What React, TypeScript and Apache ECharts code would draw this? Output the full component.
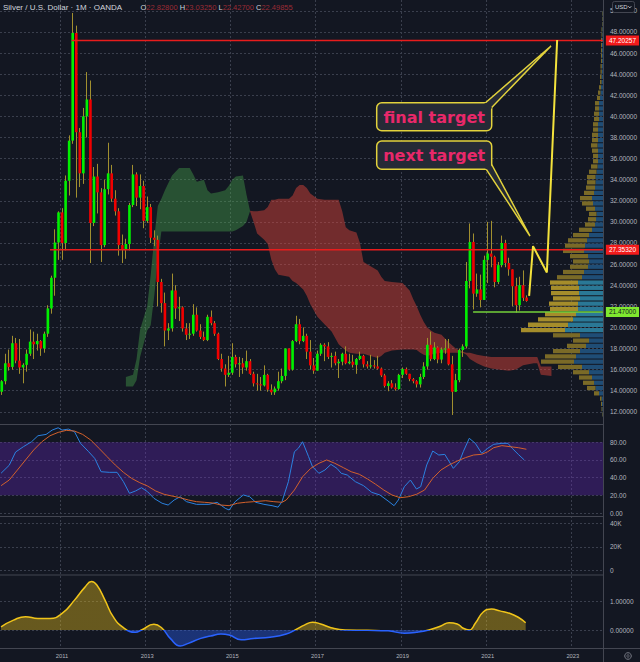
import React, { useEffect, useRef } from 'react';
import * as echarts from 'echarts';

// ---------- categories: monthly, Aug 2009 -> Sep 2023 ----------
const firstMonth = { year: 2009, month: 8 };
const monthCount = 170;
const months: string[] = Array.from({ length: monthCount }, (_, k) => {
  const m = firstMonth.month - 1 + k;
  return `${firstMonth.year + Math.floor(m / 12)}-${String((m % 12) + 1).padStart(2, '0')}`;
});
const yearTicks = ['2011', '2013', '2015', '2017', '2019', '2021', '2023'];

// ---------- monthly candles [open, close, low, high], Aug 2009 -> Dec 2021 ----------
const candles: number[][] = [
  // 2009 Aug-Dec
  [13.9, 14.9, 13.6, 15.0], [14.9, 16.6, 14.6, 17.5], [16.6, 16.25, 15.9, 17.9], [16.25, 18.5, 16.0, 19.2], [18.5, 16.85, 16.6, 19.0],
  // 2010
  [16.85, 16.2, 15.6, 18.9], [16.2, 16.45, 14.7, 16.6], [16.45, 17.5, 15.8, 17.9], [17.5, 18.65, 17.3, 19.8],
  [18.65, 18.4, 17.0, 19.6], [18.4, 18.7, 17.8, 19.4], [18.7, 18.0, 17.3, 18.8], [18.0, 19.4, 17.6, 19.6],
  [19.4, 21.8, 19.1, 22.1], [21.8, 24.7, 21.3, 24.9], [24.7, 28.05, 23.0, 29.3], [28.05, 30.9, 26.4, 31.0],
  // 2011
  [30.9, 28.0, 26.4, 31.3], [28.0, 33.9, 27.3, 34.4], [33.9, 37.7, 32.5, 38.2], [37.7, 47.9, 37.4, 49.8],
  [47.9, 38.5, 32.3, 48.6], [38.5, 34.6, 33.3, 38.9], [34.6, 40.0, 33.6, 40.8], [40.0, 41.6, 38.0, 44.2],
  [41.6, 29.9, 26.1, 43.4], [29.9, 34.3, 29.6, 35.2], [34.3, 32.8, 30.8, 35.5], [32.8, 27.8, 26.2, 33.2],
  // 2012
  [27.8, 33.1, 27.6, 34.0], [33.1, 34.6, 32.6, 37.5], [34.6, 32.2, 31.9, 35.4], [32.2, 31.0, 30.6, 33.0],
  [31.0, 27.8, 26.8, 31.3], [27.8, 27.4, 26.1, 28.8], [27.4, 27.9, 26.5, 28.4], [27.9, 31.6, 27.3, 31.8],
  [31.6, 34.5, 31.4, 35.4], [34.5, 32.3, 31.5, 34.7], [32.3, 33.4, 31.2, 34.5], [33.4, 30.1, 29.4, 33.9],
  // 2013
  [30.1, 31.4, 29.9, 32.4], [31.4, 28.5, 28.0, 31.7], [28.5, 28.3, 27.7, 29.2], [28.3, 24.3, 22.0, 28.7],
  [24.3, 22.3, 21.4, 24.6], [22.3, 19.7, 18.2, 23.3], [19.7, 19.9, 18.8, 20.4], [19.9, 23.5, 19.6, 25.1],
  [23.5, 21.8, 20.8, 24.0], [21.8, 21.9, 20.6, 22.9], [21.9, 19.9, 19.6, 22.0], [19.9, 19.3, 18.8, 20.4],
  // 2014
  [19.3, 19.4, 18.9, 20.4], [19.4, 21.2, 19.2, 22.2], [21.2, 19.7, 19.6, 21.9], [19.7, 19.1, 18.9, 20.3],
  [19.1, 18.8, 18.7, 19.6], [18.8, 21.0, 18.7, 21.2], [21.0, 20.4, 20.2, 21.6], [20.4, 19.4, 19.2, 20.6],
  [19.4, 17.0, 16.9, 19.5], [17.0, 16.1, 15.8, 17.5], [16.1, 15.5, 14.4, 16.5], [15.5, 15.7, 15.3, 17.3],
  // 2015
  [15.7, 17.2, 15.5, 18.5], [17.2, 16.5, 16.2, 17.4], [16.5, 16.6, 15.3, 17.2], [16.6, 16.2, 15.6, 17.1],
  [16.2, 16.8, 15.9, 17.8], [16.8, 15.6, 15.5, 17.0], [15.6, 14.7, 14.4, 15.8], [14.7, 14.6, 14.0, 15.6],
  [14.6, 14.5, 14.0, 15.3], [14.5, 15.5, 14.4, 16.4], [15.5, 14.1, 13.9, 15.6], [14.1, 13.85, 13.6, 14.6],
  // 2016
  [13.85, 14.2, 13.6, 14.4], [14.2, 14.9, 14.0, 15.8], [14.9, 15.4, 14.7, 16.1], [15.4, 18.0, 15.0, 18.0],
  [18.0, 16.0, 15.9, 18.0], [16.0, 18.7, 15.9, 18.8], [18.7, 20.3, 18.6, 21.1], [20.3, 18.7, 18.4, 20.8],
  [18.7, 19.2, 18.6, 20.0], [19.2, 17.7, 17.0, 19.4], [17.7, 16.4, 16.0, 18.8], [16.4, 15.9, 15.6, 17.1],
  // 2017
  [15.9, 17.5, 15.9, 17.8], [17.5, 18.35, 17.3, 18.5], [18.35, 18.2, 16.8, 18.5], [18.2, 17.2, 17.0, 18.6],
  [17.2, 17.3, 16.2, 17.6], [17.3, 16.6, 16.4, 17.7], [16.6, 16.75, 15.2, 17.0], [16.75, 17.5, 16.4, 17.6],
  [17.5, 16.6, 16.5, 18.2], [16.6, 16.75, 16.5, 17.5], [16.75, 16.45, 16.2, 17.4], [16.45, 17.0, 15.6, 17.1],
  // 2018
  [17.0, 17.3, 16.9, 17.7], [17.3, 16.5, 16.2, 17.4], [16.5, 16.3, 16.1, 16.8], [16.3, 16.4, 16.1, 17.4],
  [16.4, 16.3, 16.1, 16.9], [16.3, 16.1, 16.0, 17.3], [16.1, 15.45, 15.3, 16.2], [15.45, 14.45, 14.3, 15.6],
  [14.45, 14.7, 13.95, 14.9], [14.7, 14.3, 14.2, 15.0], [14.3, 14.15, 14.0, 14.7], [14.15, 15.5, 14.1, 15.6],
  // 2019
  [15.5, 16.05, 15.2, 16.2], [16.05, 15.6, 15.5, 16.2], [15.6, 15.1, 14.9, 15.6], [15.1, 14.9, 14.7, 15.2],
  [14.9, 14.6, 14.3, 15.0], [14.6, 15.3, 14.3, 15.6], [15.3, 16.3, 15.1, 16.7], [16.3, 18.35, 16.0, 19.0],
  [18.35, 17.0, 16.8, 19.6], [17.0, 18.1, 16.9, 18.6], [18.1, 16.95, 16.6, 18.2], [16.95, 17.9, 16.6, 18.1],
  // 2020
  [17.9, 18.0, 17.5, 18.9], [18.0, 16.5, 16.4, 18.9], [16.5, 13.9, 11.7, 17.3], [13.9, 15.0, 13.9, 15.6],
  [15.0, 17.85, 14.8, 18.0], [17.85, 18.2, 17.2, 18.4], [18.2, 24.4, 18.0, 26.2], [24.4, 28.1, 23.7, 29.85],
  [28.1, 23.2, 21.7, 28.9], [23.2, 23.6, 22.9, 25.1], [23.6, 22.6, 21.9, 25.0], [22.6, 26.4, 22.6, 26.8],
  // 2021
  [26.4, 27.0, 24.2, 30.0], [27.0, 26.7, 25.7, 30.1], [26.7, 24.3, 23.8, 26.8], [24.3, 25.9, 24.1, 26.2],
  [25.9, 28.0, 25.7, 28.7], [28.0, 26.1, 25.7, 28.3], [26.1, 25.5, 24.9, 26.6], [25.5, 23.9, 22.0, 25.5],
  [23.9, 22.1, 21.4, 24.7], [22.1, 24.0, 21.6, 24.8], [24.0, 22.8, 22.5, 25.4], [22.828, 22.49855, 22.427, 23.0325],
];

const headerOHLC = [['O', '22.82800'], ['H', '23.03250'], ['L', '22.42700'], ['C', '22.49855']];

// ---------- Ichimoku cloud [monthIndex, upper, lower] ----------
const greenCloud: number[][] = [
  [35, 15.3, 14.4], [37, 15.5, 14.4], [38, 17.0, 15.0], [39, 19.8, 17.2], [41, 22.0, 19.7], [42, 25.0, 20.2],
  [43, 28.5, 23.0], [44, 31.5, 26.5], [45, 32.2, 29.1], [46, 33.0, 29.1], [48, 34.4, 29.1], [50, 35.1, 29.1],
  [53, 35.1, 29.1], [54, 34.5, 29.1], [55, 33.8, 29.1], [57, 34.0, 29.1], [58, 33.0, 29.1], [59, 32.7, 29.1],
  [61, 32.8, 29.1], [63, 33.0, 29.1], [64, 33.4, 29.1], [65, 34.0, 29.1], [66, 34.3, 29.2], [68, 34.4, 29.6],
  [69, 32.6, 30.0], [70, 31.05, 31.0],
];
const redCloud: number[][] = [
  [70, 31.05, 31.0], [71, 31.0, 30.0], [72, 31.0, 28.9], [74, 31.1, 28.3], [75, 31.4, 27.9], [76, 32.1, 26.4],
  [77, 32.1, 25.5], [78, 32.2, 25.0], [81, 32.2, 24.8], [82, 32.5, 24.4], [83, 33.2, 24.2], [84, 33.5, 23.9],
  [85, 33.5, 23.6], [86, 33.2, 23.0], [87, 32.7, 22.2], [89, 32.2, 21.0], [91, 32.1, 20.3], [93, 32.1, 19.6],
  [95, 32.1, 18.4], [96, 31.0, 18.1], [97, 29.5, 17.8], [98, 29.2, 17.6], [100, 29.0, 17.5], [101, 28.0, 17.5],
  [102, 26.2, 17.5], [104, 25.8, 17.3], [106, 25.4, 17.1], [107, 24.8, 17.3], [108, 24.4, 17.6], [110, 24.3, 17.8],
  [113, 24.2, 17.9], [115, 23.5, 17.9], [116, 22.7, 17.9], [117, 22.0, 17.85], [118, 21.2, 17.6], [119, 20.5, 17.4],
  [120, 20.0, 17.3], [121, 19.7, 17.4], [122, 19.5, 17.5], [124, 19.3, 17.6], [126, 18.6, 17.6], [128, 18.0, 17.6],
  [130, 17.7, 17.6], [131, 17.6, 17.4], [132, 17.6, 17.0], [134, 17.4, 16.6], [136, 17.3, 16.3], [138, 17.2, 16.1],
  [140, 17.2, 16.0], [143, 17.2, 15.9], [145, 17.2, 16.0], [147, 17.2, 16.4], [150, 17.2, 16.6], [151, 17.2, 16.6],
  [152, 16.3, 15.5], [155, 16.3, 15.4],
];

// ---------- horizontal levels ----------
const levelValues = [47.20257, 27.3532, 21.47];
const levelStarts = [19.7, 13.6, 132.9];

// ---------- projected path [monthIndex, price] ----------
const projection: number[][] = [[148.7, 22.98], [149.8, 27.7], [153.7, 25.2], [156.6, 47.24]];

// ---------- visible range volume profile [price, upVol, downVol] ----------
const volumeProfile: number[][] = [
  [11.75, 0.5, 0.5], [12.25, 0.7, 0.8], [12.75, 1, 1], [13.25, 1.4, 1.6], [13.75, 4, 5], [14.25, 7.5, 8.5],
  [14.75, 9, 11], [15.25, 11, 13], [15.75, 14, 16], [16.25, 21, 24], [16.75, 29, 33], [17.25, 27, 31],
  [17.75, 23, 27], [18.25, 17, 19], [18.75, 14, 16], [19.25, 23, 27], [19.75, 38, 44], [20.25, 35, 40],
  [20.75, 30, 35], [21.25, 27, 31], [21.75, 25, 28], [22.25, 25, 29], [22.75, 23, 27], [23.25, 24, 28],
  [23.75, 24, 28], [24.25, 25, 28], [24.75, 21, 25], [25.25, 19, 21], [25.75, 15, 18], [26.25, 14, 16],
  [26.75, 15, 18], [27.25, 19, 21], [27.75, 18, 20], [28.25, 16, 19], [28.75, 14, 16], [29.25, 11, 13],
  [29.75, 8, 10], [30.25, 7, 8], [30.75, 6.5, 7.5], [31.25, 8, 9], [31.75, 10, 11], [32.25, 11, 12],
  [32.75, 9, 10], [33.25, 8, 9], [33.75, 7.5, 8.5], [34.25, 7.5, 8.5], [34.75, 6.5, 7.5], [35.25, 5.5, 6.5],
  [35.75, 5, 5], [36.25, 5, 5], [36.75, 5, 6], [37.25, 5.5, 6.5], [37.75, 5, 6], [38.25, 5, 6],
  [38.75, 5, 5], [39.25, 5, 5], [39.75, 4, 5], [40.25, 4, 5], [40.75, 4, 4], [41.25, 4, 4],
  [41.75, 3, 3], [42.25, 2.5, 2.5], [42.75, 2, 2], [43.25, 1.5, 1.5], [43.75, 1.5, 1.5], [44.25, 1.2, 1.3],
  [44.75, 1.2, 1.3], [45.25, 1, 1], [45.75, 1, 1], [46.25, 1, 1], [46.75, 1, 1], [47.25, 1, 1],
  [47.75, 0.7, 0.8], [48.25, 0.7, 0.8], [48.75, 0.5, 0.5], [49.25, 0.5, 0.5], [49.75, 0.5, 0.5],
];
const vpBin = 0.5;
const valueArea = [19.75, 24.25];

// ---------- RSI and its moving average [monthIndex, value] ----------
const rsi: number[][] = [
  [-0.2, 45], [2.1, 54], [3.9, 69], [6.1, 75], [8.4, 80.6], [10.2, 87.4], [12.5, 88.9], [14.2, 93.8], [15.9, 96.4],
  [17.0, 93.8], [18.8, 94.9], [20.5, 91.9], [22.2, 78.8], [24.5, 69.3], [26.2, 61.8], [28.0, 46.7], [30.3, 46],
  [32.5, 46], [34.3, 35.4], [36.0, 22.3], [37.7, 24.9], [39.4, 28.6], [41.1, 24.1], [42.9, 16.6], [45.2, 11],
  [46.9, 9], [48.6, 14.7], [50.3, 18.4], [52.1, 12.8], [54.9, 9.8], [58.4, 9.8], [60.7, 12.1], [63.0, 5.3],
  [64.1, 3.4], [65.8, 12.8], [68.1, 20.4], [69.9, 18.4], [71.6, 12.1], [73.9, 9.8], [76.2, 8.3], [77.9, 6.6],
  [79.0, 12.8], [80.8, 35.4], [82.5, 69.3], [83.6, 73.2], [84.8, 80.6], [86.5, 63.7], [87.6, 52.4], [89.4, 44.9],
  [91.1, 48.6], [92.8, 55], [94.5, 50.5], [95.7, 44.9], [97.4, 43], [99.7, 35.4], [102.0, 30.9], [104.3, 23.4],
  [106.6, 20.4], [108.9, 13.6], [110.6, 8.3], [111.8, 14.7], [113.5, 29.8], [115.2, 37.3], [116.9, 27.1],
  [118.1, 29.8], [119.8, 54.3], [121.5, 70.1], [123.2, 65.6], [124.9, 66.3], [127.3, 50.5], [129.0, 58],
  [130.1, 69.3], [131.8, 84.5], [133.5, 78.8], [135.3, 67.5], [137.0, 73.2], [138.7, 77.7], [141.0, 78.8],
  [142.7, 78.8], [143.9, 73.2], [145.6, 66.4], [147.3, 60],
];
const rsiMA: number[][] = [
  [-0.2, 30.9], [2.1, 37.3], [4.4, 48.6], [6.7, 60], [9.0, 71.3], [11.3, 80.6], [13.6, 87.4], [15.9, 91.2],
  [18.2, 93.5], [20.5, 92.7], [22.8, 88.9], [25.1, 82.5], [27.4, 73.2], [29.7, 63.7], [32.0, 54.3], [34.3, 46],
  [36.6, 39.2], [38.9, 34.3], [41.1, 30.5], [43.4, 24.9], [45.8, 21.1], [48.0, 19.2], [50.3, 17.3], [52.6, 14.7],
  [54.9, 12.8], [57.2, 12.1], [59.5, 11.3], [61.8, 9], [64.1, 8.3], [66.4, 11], [68.7, 12.1], [71.0, 12.8],
  [74.4, 13.9], [76.7, 12.8], [79.0, 12.1], [80.2, 14.7], [82.5, 26], [84.8, 41], [87.1, 50.5], [89.4, 56.2],
  [91.6, 60], [93.9, 56.2], [96.3, 51.3], [98.5, 46.7], [100.8, 43.8], [103.1, 38.5], [105.4, 32.5], [107.7, 26],
  [110.0, 20.4], [112.3, 17.3], [114.6, 18.4], [116.9, 21.1], [119.2, 26], [121.5, 39.2], [123.8, 48.6],
  [126.1, 54.3], [128.4, 58.8], [130.7, 62.6], [133.0, 65.6], [135.3, 66.4], [137.0, 69.3], [138.7, 73.9],
  [141.0, 76.2], [143.3, 75], [145.6, 73.9], [147.9, 72.1],
];

// ---------- lower oscillator [monthIndex, value] ----------
const oscillator: number[][] = [
  [-0.2, 0.11], [3.3, 0.34], [6.7, 0.46], [10.2, 0.4], [13.6, 0.4], [17.0, 0.57], [20.5, 1.03], [23.4, 1.47],
  [25.3, 1.67], [26.8, 1.55], [29.1, 1.03], [31.4, 0.46], [34.3, 0.08], [37.7, -0.08], [39.4, 0], [42.9, 0.2],
  [45.2, 0.06], [47.5, -0.29], [50.3, -0.55], [52.6, -0.46], [56.1, -0.29], [58.9, -0.21], [61.8, -0.14],
  [64.1, -0.17], [67.5, -0.34], [71.0, -0.29], [75.6, -0.25], [80.2, -0.14], [83.0, 0.02], [85.3, 0.17],
  [87.6, 0.27], [89.9, 0.21], [92.8, 0.08], [96.8, 0], [103.1, -0.01], [108.9, -0.03], [113.5, -0.11],
  [116.9, -0.08], [120.4, 0], [123.8, 0.14], [126.1, 0.25], [128.4, 0.21], [130.1, 0.06], [131.8, 0],
  [133.5, 0.23], [135.8, 0.63], [138.1, 0.72], [140.4, 0.66], [143.3, 0.57], [145.6, 0.44], [147.7, 0.25],
];

// ---------- styles ----------
const BG = '#131722';
const GRIDLINE = { color: '#3a3f4d', type: [2, 2] as any, width: 1 };
const LABEL = '#b2b5be';
const SEP = '#434651';
const UP = '#00f000';
const DOWN = '#f00000';
const WICK = '#a18f2f';
const AXIS_FONT = 6.5;
const VP_WIDTH_FRACTION = 0.136;
const FONT = 'Liberation Sans, Arial, sans-serif';
const PRICE_MIN = 10;
const PRICE_MAX = 51.03;
const MAIN_HEIGHT = 432.9;

const isYearTick = (val: string) => val.endsWith('-01') && yearTicks.includes(val.slice(0, 4));

function cloudRender(points: number[][], fill: string) {
  return (params: any, api: any) => {
    if (params.dataIndex !== 0) return null;
    const top = points.map((p) => api.coord([p[0], p[1]]));
    const bot = points.map((p) => api.coord([p[0], p[2]])).reverse();
    return { type: 'polygon', shape: { points: top.concat(bot) }, style: { fill } };
  };
}

function candleRender(params: any, api: any) {
  const i = api.value(0);
  const o = api.value(1), c = api.value(2), l = api.value(3), h = api.value(4);
  const po = api.coord([i, o]);
  const pc = api.coord([i, c]);
  const pl = api.coord([i, l]);
  const ph = api.coord([i, h]);
  const bw = api.size([1, 0])[0] * 0.74;
  const xw = Math.floor(po[0]) + 0.5;
  const top = Math.min(po[1], pc[1]);
  const bh = Math.max(1, Math.abs(po[1] - pc[1]));
  return {
    type: 'group',
    children: [
      { type: 'line', shape: { x1: xw, y1: ph[1], x2: xw, y2: pl[1] }, style: { stroke: WICK, lineWidth: 1 } },
      { type: 'rect', shape: { x: po[0] - bw / 2, y: top, width: bw, height: bh }, style: { fill: c >= o ? UP : DOWN } },
    ],
  };
}

function vpRender(params: any, api: any) {
  const price = api.value(0), up = api.value(1), dn = api.value(2);
  const p0 = api.coord([0, price]);
  const p1 = api.coord([up, price]);
  const p2 = api.coord([up + dn, price]);
  const h = Math.max(1, api.size([0, vpBin])[1] - 1);
  const inVA = price >= valueArea[0] && price <= valueArea[1];
  return {
    type: 'group',
    children: [
      { type: 'rect', shape: { x: p1[0], y: p0[1] - h / 2, width: p0[0] - p1[0], height: h }, style: { fill: inVA ? '#2a7896' : '#1f4d76' } },
      { type: 'rect', shape: { x: p2[0], y: p0[1] - h / 2, width: p1[0] - p2[0], height: h }, style: { fill: inVA ? '#a58d2b' : '#7a6a27' } },
    ],
  };
}

function buildOption() {
  const xMin = -0.5, xMax = monthCount - 0.5;
  const vpMax = Math.max(...volumeProfile.map((r) => r[1] + r[2])) / VP_WIDTH_FRACTION;
  const valueX = (gridIndex: number) => ({ type: 'value', gridIndex, min: xMin, max: xMax, show: false });

  const series: any[] = [];
  series.push({ type: 'custom', xAxisIndex: 1, yAxisIndex: 1, data: greenCloud, encode: { x: 0, y: [1, 2] }, renderItem: cloudRender(greenCloud, 'rgba(76,175,80,0.38)'), silent: true, z: 1 });
  series.push({ type: 'custom', xAxisIndex: 1, yAxisIndex: 1, data: redCloud, encode: { x: 0, y: [1, 2] }, renderItem: cloudRender(redCloud, 'rgba(230,70,60,0.45)'), silent: true, z: 1 });
  series.push({ type: 'custom', xAxisIndex: 5, yAxisIndex: 5, data: volumeProfile, encode: { x: [1, 2], y: 0 }, renderItem: vpRender, silent: true, z: 2 });
  series.push({ type: 'custom', xAxisIndex: 1, yAxisIndex: 1, data: candles.map((c, i) => [i, ...c]), encode: { x: 0, y: [1, 2, 3, 4] }, renderItem: candleRender, silent: true, z: 3 });

  const levelColors = ['#e81c1c', '#e81c1c', '#74d23a'];
  const levelLabelBg = ['#f21b1b', '#f21b1b', '#7fe82f'];
  const levelLabelFg = ['#ffffff', '#ffffff', '#131722'];
  levelValues.forEach((v, k) => {
    series.push({
      type: 'line', xAxisIndex: 1, yAxisIndex: 1, symbol: 'none', silent: true, z: 4,
      data: [[levelStarts[k], v], [xMax, v]],
      lineStyle: { color: levelColors[k], width: 1.5 },
      endLabel: {
        show: true, formatter: () => v.toFixed(5), backgroundColor: levelLabelBg[k], color: levelLabelFg[k],
        fontSize: AXIS_FONT, fontFamily: FONT, padding: [2, 3, 1, 3], distance: 3,
      },
    });
  });
  series.push({ type: 'line', xAxisIndex: 1, yAxisIndex: 1, symbol: 'none', silent: true, z: 5, data: projection, lineStyle: { color: '#f3e23c', width: 2 } });

  series.push({
    type: 'line', xAxisIndex: 2, yAxisIndex: 2, symbol: 'none', silent: true, z: 3, data: rsi,
    lineStyle: { color: '#2b82e0', width: 1 },
    markArea: { silent: true, itemStyle: { color: 'rgba(110,40,200,0.32)' }, data: [[{ yAxis: 20 }, { yAxis: 80 }]] },
  });
  series.push({ type: 'line', xAxisIndex: 2, yAxisIndex: 2, symbol: 'none', silent: true, z: 4, data: rsiMA, lineStyle: { color: '#d2612c', width: 1 } });

  const oscIndex = series.length;
  series.push({
    type: 'line', xAxisIndex: 4, yAxisIndex: 4, symbol: 'none', silent: true, smooth: 0.5, data: oscillator,
    lineStyle: { width: 1.5 }, areaStyle: { opacity: 0.38, origin: 0 },
  });

  const graphic: any[] = [
    // pane separators and axis borders
    { type: 'line', z: 50, shape: { x1: 0, y1: 424.5, x2: 603, y2: 424.5 }, style: { stroke: SEP, lineWidth: 1 } },
    { type: 'line', z: 50, shape: { x1: 0, y1: 516.5, x2: 603, y2: 516.5 }, style: { stroke: SEP, lineWidth: 1 } },
    { type: 'line', z: 50, shape: { x1: 0, y1: 575, x2: 603, y2: 575 }, style: { stroke: SEP, lineWidth: 1 } },
    { type: 'line', z: 50, shape: { x1: 0, y1: 648.5, x2: 640, y2: 648.5 }, style: { stroke: SEP, lineWidth: 1 } },
    { type: 'line', z: 50, shape: { x1: 603.5, y1: 0, x2: 603.5, y2: 662 }, style: { stroke: SEP, lineWidth: 1 } },
    // header
    { type: 'text', z: 60, x: 3, y: 7.5, style: { text: 'Silver / U.S. Dollar · 1M · OANDA', fill: '#d1d4dc', fontSize: 8, fontFamily: FONT, verticalAlign: 'middle' } },
    {
      type: 'text', z: 60, x: 140.5, y: 7.5,
      style: {
        text: headerOHLC.map(([k, v]) => `{l|${k}}{v|${v}}`).join(' '),
        rich: { l: { fill: '#d1d4dc', fontSize: 7.5, fontFamily: FONT }, v: { fill: '#9b2b35', fontSize: 7.5, fontFamily: FONT } },
        fontSize: 7.5, fontFamily: FONT, verticalAlign: 'middle',
      },
    },
    // USD button
    { type: 'rect', z: 60, shape: { x: 612.5, y: 1.5, width: 22, height: 11, r: 2 }, style: { fill: BG, stroke: '#434651', lineWidth: 1 } },
    { type: 'text', z: 61, x: 615, y: 7.3, style: { text: 'USD', fill: '#d1d4dc', fontSize: 6, fontFamily: FONT, verticalAlign: 'middle' } },
    { type: 'polyline', z: 61, shape: { points: [[628.3, 6.2], [629.8, 7.9], [631.3, 6.2]] }, style: { stroke: '#d1d4dc', lineWidth: 0.8, fill: 'none' } },
    // gear
    { type: 'circle', z: 60, shape: { cx: 628, cy: 656, r: 3.3 }, style: { fill: 'none', stroke: '#787b86', lineWidth: 1 } },
    { type: 'circle', z: 60, shape: { cx: 628, cy: 656, r: 1.2 }, style: { fill: 'none', stroke: '#787b86', lineWidth: 0.8 } },
    // callout: final target
    { type: 'rect', z: 70, shape: { x: 376.7, y: 102.7, width: 115, height: 28, r: 5 }, style: { fill: '#252a36', stroke: '#e2d23c', lineWidth: 1.5 } },
    { type: 'polygon', z: 71, shape: { points: [[483, 105], [551, 46], [490, 110]] }, style: { fill: '#252a36' } },
    { type: 'polyline', z: 72, shape: { points: [[485.5, 102.7], [551, 46], [491.7, 107.5]] }, style: { stroke: '#e2d23c', lineWidth: 1.5, fill: 'none' } },
    { type: 'text', z: 73, x: 434.2, y: 117, style: { text: 'final target', fill: '#e8286a', fontSize: 16, fontWeight: 'bold', fontFamily: 'DejaVu Sans', align: 'center', verticalAlign: 'middle' } },
    // callout: next target
    { type: 'rect', z: 70, shape: { x: 376.7, y: 141, width: 115, height: 28.3, r: 5 }, style: { fill: '#252a36', stroke: '#e2d23c', lineWidth: 1.5 } },
    { type: 'polygon', z: 71, shape: { points: [[484.5, 167], [530, 236], [490, 163]] }, style: { fill: '#252a36' } },
    { type: 'polyline', z: 72, shape: { points: [[486.3, 169.3], [530, 236], [491.7, 164.5]] }, style: { stroke: '#e2d23c', lineWidth: 1.5, fill: 'none' } },
    { type: 'text', z: 73, x: 434.2, y: 155.3, style: { text: 'next target', fill: '#e8286a', fontSize: 16, fontWeight: 'bold', fontFamily: 'DejaVu Sans', align: 'center', verticalAlign: 'middle' } },
  ];

  const axisLabelBase = { color: LABEL, fontSize: AXIS_FONT, fontFamily: FONT, margin: 7 };

  return {
    animation: false,
    backgroundColor: BG,
    textStyle: { fontFamily: FONT },
    grid: [
      { left: 0, right: 37, top: 0, height: 648 },
      { left: 0, right: 37, top: 0, height: MAIN_HEIGHT },
      { left: 0, right: 37, top: 424.6, height: 88.4 },
      { left: 0, right: 37, top: 523.4, height: 46.9 },
      { left: 0, right: 37, top: 572, height: 87 },
      { left: 0, right: 37, top: 0, height: MAIN_HEIGHT },
    ],
    xAxis: [
      {
        type: 'category', gridIndex: 0, data: months, boundaryGap: true,
        axisLine: { show: false }, axisTick: { show: false },
        axisLabel: { interval: (_i: number, v: string) => isYearTick(v), formatter: (v: string) => v.slice(0, 4), color: LABEL, fontSize: 5.8, fontFamily: FONT, margin: 5 },
        splitLine: { show: true, interval: (_i: number, v: string) => isYearTick(v), lineStyle: GRIDLINE },
      },
      valueX(1), valueX(2), valueX(3), valueX(4),
      { type: 'value', gridIndex: 5, min: 0, max: vpMax, inverse: true, show: false },
    ],
    yAxis: [
      { type: 'value', gridIndex: 0, min: 0, max: 1, show: false },
      {
        type: 'value', gridIndex: 1, position: 'right', min: PRICE_MIN, max: PRICE_MAX, interval: 2,
        axisLine: { show: false }, axisTick: { show: false },
        axisLabel: { ...axisLabelBase, showMinLabel: false, showMaxLabel: false, formatter: (v: number) => v.toFixed(5) },
        splitLine: { show: true, showMinLine: false, showMaxLine: false, lineStyle: GRIDLINE },
      },
      {
        type: 'value', gridIndex: 2, position: 'right', min: 0, max: 100, interval: 20,
        axisLine: { show: false }, axisTick: { show: false },
        axisLabel: { ...axisLabelBase, showMaxLabel: false, formatter: (v: number) => v.toFixed(2) },
        splitLine: { show: true, showMaxLine: false, lineStyle: GRIDLINE },
      },
      {
        type: 'value', gridIndex: 3, position: 'right', min: 0, max: 40000, interval: 20000,
        axisLine: { show: false }, axisTick: { show: false },
        axisLabel: { ...axisLabelBase, formatter: (v: number) => (v === 0 ? '0' : `${v / 1000}K`) },
        splitLine: { show: true, lineStyle: GRIDLINE },
      },
      {
        type: 'value', gridIndex: 4, position: 'right', min: -1, max: 2, interval: 1,
        axisLine: { show: false }, axisTick: { show: false },
        axisLabel: { ...axisLabelBase, showMinLabel: false, showMaxLabel: false, formatter: (v: number) => v.toFixed(5) },
        splitLine: { show: true, showMinLine: false, showMaxLine: false, lineStyle: GRIDLINE },
      },
      { type: 'value', gridIndex: 5, min: PRICE_MIN, max: PRICE_MAX, show: false },
    ],
    visualMap: [
      {
        type: 'piecewise', show: false, seriesIndex: oscIndex, dimension: 1,
        pieces: [{ gte: -5, lt: 0, color: '#2962ff' }, { gte: 0, lte: 5, color: '#f0c419' }],
      },
    ],
    series,
    graphic,
  };
}

export default function App() {
  const ref = useRef<HTMLDivElement>(null);
  useEffect(() => {
    const chart = echarts.init(ref.current as HTMLDivElement, undefined, { renderer: 'svg' });
    chart.setOption(buildOption() as any);
    return () => chart.dispose();
  }, []);
  return <div ref={ref} style={{ position: 'absolute', left: 0, top: 0, width: 640, height: 662 }} />;
}
